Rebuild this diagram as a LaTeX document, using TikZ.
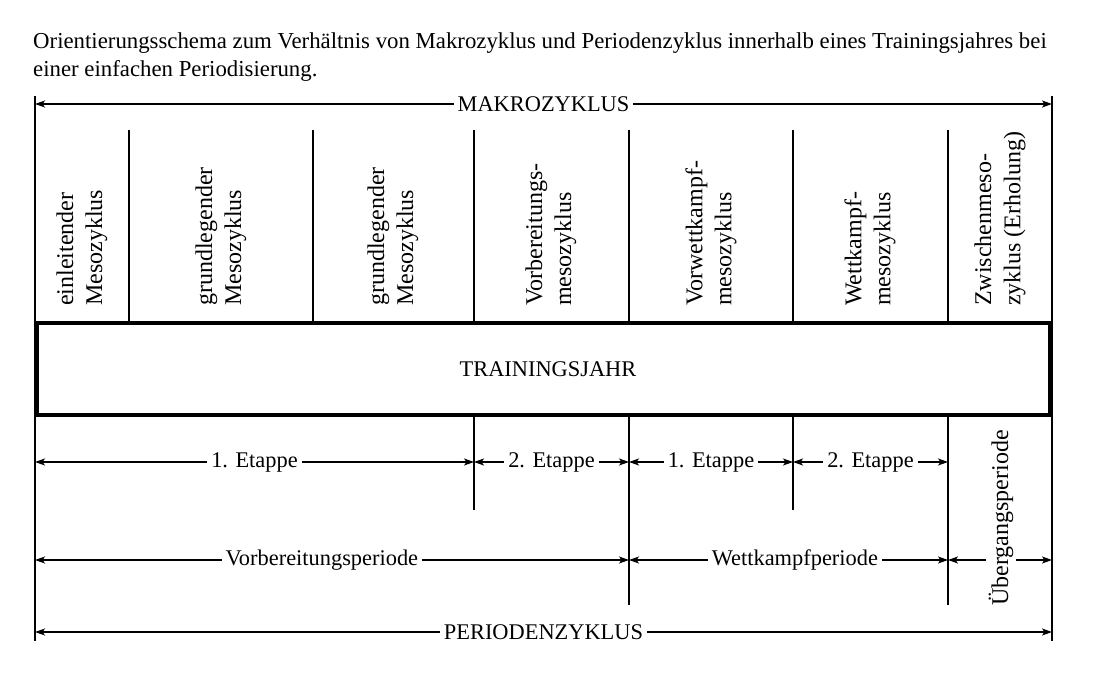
\documentclass[tikz,border=0pt]{standalone}
\usepackage{fontspec}
\setmainfont{Liberation Serif}
\usetikzlibrary{arrows.meta}

\newcommand\schemafnt{\fontsize{22.4}{26}\selectfont}
\newcommand\cellfnt{\fontsize{24}{29}\selectfont}
\newcommand\headfnt{\fontsize{22.8}{28}\selectfont}

\tikzset{
  sep/.style={line width=1.4pt},
  dim/.style={{Stealth[length=10pt,width=7pt,inset=2.5pt]}-{Stealth[length=10pt,width=7pt,inset=2.5pt]}, line width=1.1pt},
  lbl/.style={fill=white, inner xsep=4pt, inner ysep=1pt},
  cell/.style={rotate=90, anchor=west, align=left, inner sep=0pt, font=\cellfnt}
}

\begin{document}
\begin{tikzpicture}[x=1pt,y=-1pt,every node/.style={font=\schemafnt}]
  \useasboundingbox (0,0) rectangle (1100,684);

  % Title
  \node[anchor=north west, align=left, inner sep=0pt, font=\headfnt] (title) at (33,32)
    {Orientierungsschema zum Verhältnis von Makrozyklus und Periodenzyklus innerhalb eines Trainingsjahres bei\\
     einer einfachen Periodisierung.};

  % Column boundaries
  \foreach \n/\x in {0/35,1/129,2/313,3/474,4/629,5/793,6/948,7/1052} {
    \coordinate (top\n) at (\x,104);
    \coordinate (up\n) at (\x,130);
    \coordinate (box\n) at (\x,322);
    \coordinate (low\n) at (\x,416);
    \coordinate (et\n) at (\x,462);
    \coordinate (per\n) at (\x,560);
    \coordinate (bot\n) at (\x,632);
  }

  % Outer lines
  \draw[sep] (35,96) -- (35,641);
  \draw[sep] (1052,96) -- (1052,641);

  % Mesocycles
  \foreach \n in {1,...,6}
    \draw[sep] (up\n) -- (box\n);
  \foreach \x/\t [count=\i] in {82/{einleitender\\Mesozyklus},
                                221/{grundlegender\\Mesozyklus},
                                393/{grundlegender\\Mesozyklus},
                                551/{Vorbereitungs-\\mesozyklus},
                                711/{Vorwettkampf-\\mesozyklus},
                                870/{Wettkampf-\\mesozyklus},
                                1000/{Zwischenmeso-\\zyklus (Erholung)}}
    \node[cell] (meso\i) at (\x,306) {\t};

  % Training year
  \node[draw, line width=3.5pt, minimum width=1013pt, minimum height=92pt, inner sep=0pt] (jahr) at (543.5,369) {};
  \node (jahrtext) at (548,369) {TRAININGSJAHR};

  % Dividers below
  \foreach \n/\l in {3/94,4/189,5/94,6/189}
    \draw[sep] (low\n) -- ++(0,\l);

  % Makrozyklus
  \draw[dim] (top0) -- (top7) node[lbl, midway] (makro) {MAKROZYKLUS};

  % Etappen
  \draw[dim] (et0) -- (et3) node[lbl, midway] (etA) {1. Etappe};
  \draw[dim] (et3) -- (et4) node[lbl, midway] (etB) {2. Etappe};
  \draw[dim] (et4) -- (et5) node[lbl, midway] (etC) {1. Etappe};
  \draw[dim] (et5) -- (et6) node[lbl, midway] (etD) {2. Etappe};

  % Perioden
  \draw[dim] (per0) -- (per4) node[lbl, pos=0.483] (vorb) {Vorbereitungsperiode};
  \draw[dim] (per4) -- (per6) node[lbl, pos=0.52] (wett) {Wettkampfperiode};
  \draw[dim] (per6) -- (per7);
  \node[lbl, rotate=90, inner xsep=2pt, inner ysep=3pt, font=\cellfnt] (ueber) at (1001,518) {Übergangsperiode};

  % Periodenzyklus
  \draw[dim] (bot0) -- (bot7) node[lbl, midway] (perz) {PERIODENZYKLUS};
\end{tikzpicture}
\end{document}
